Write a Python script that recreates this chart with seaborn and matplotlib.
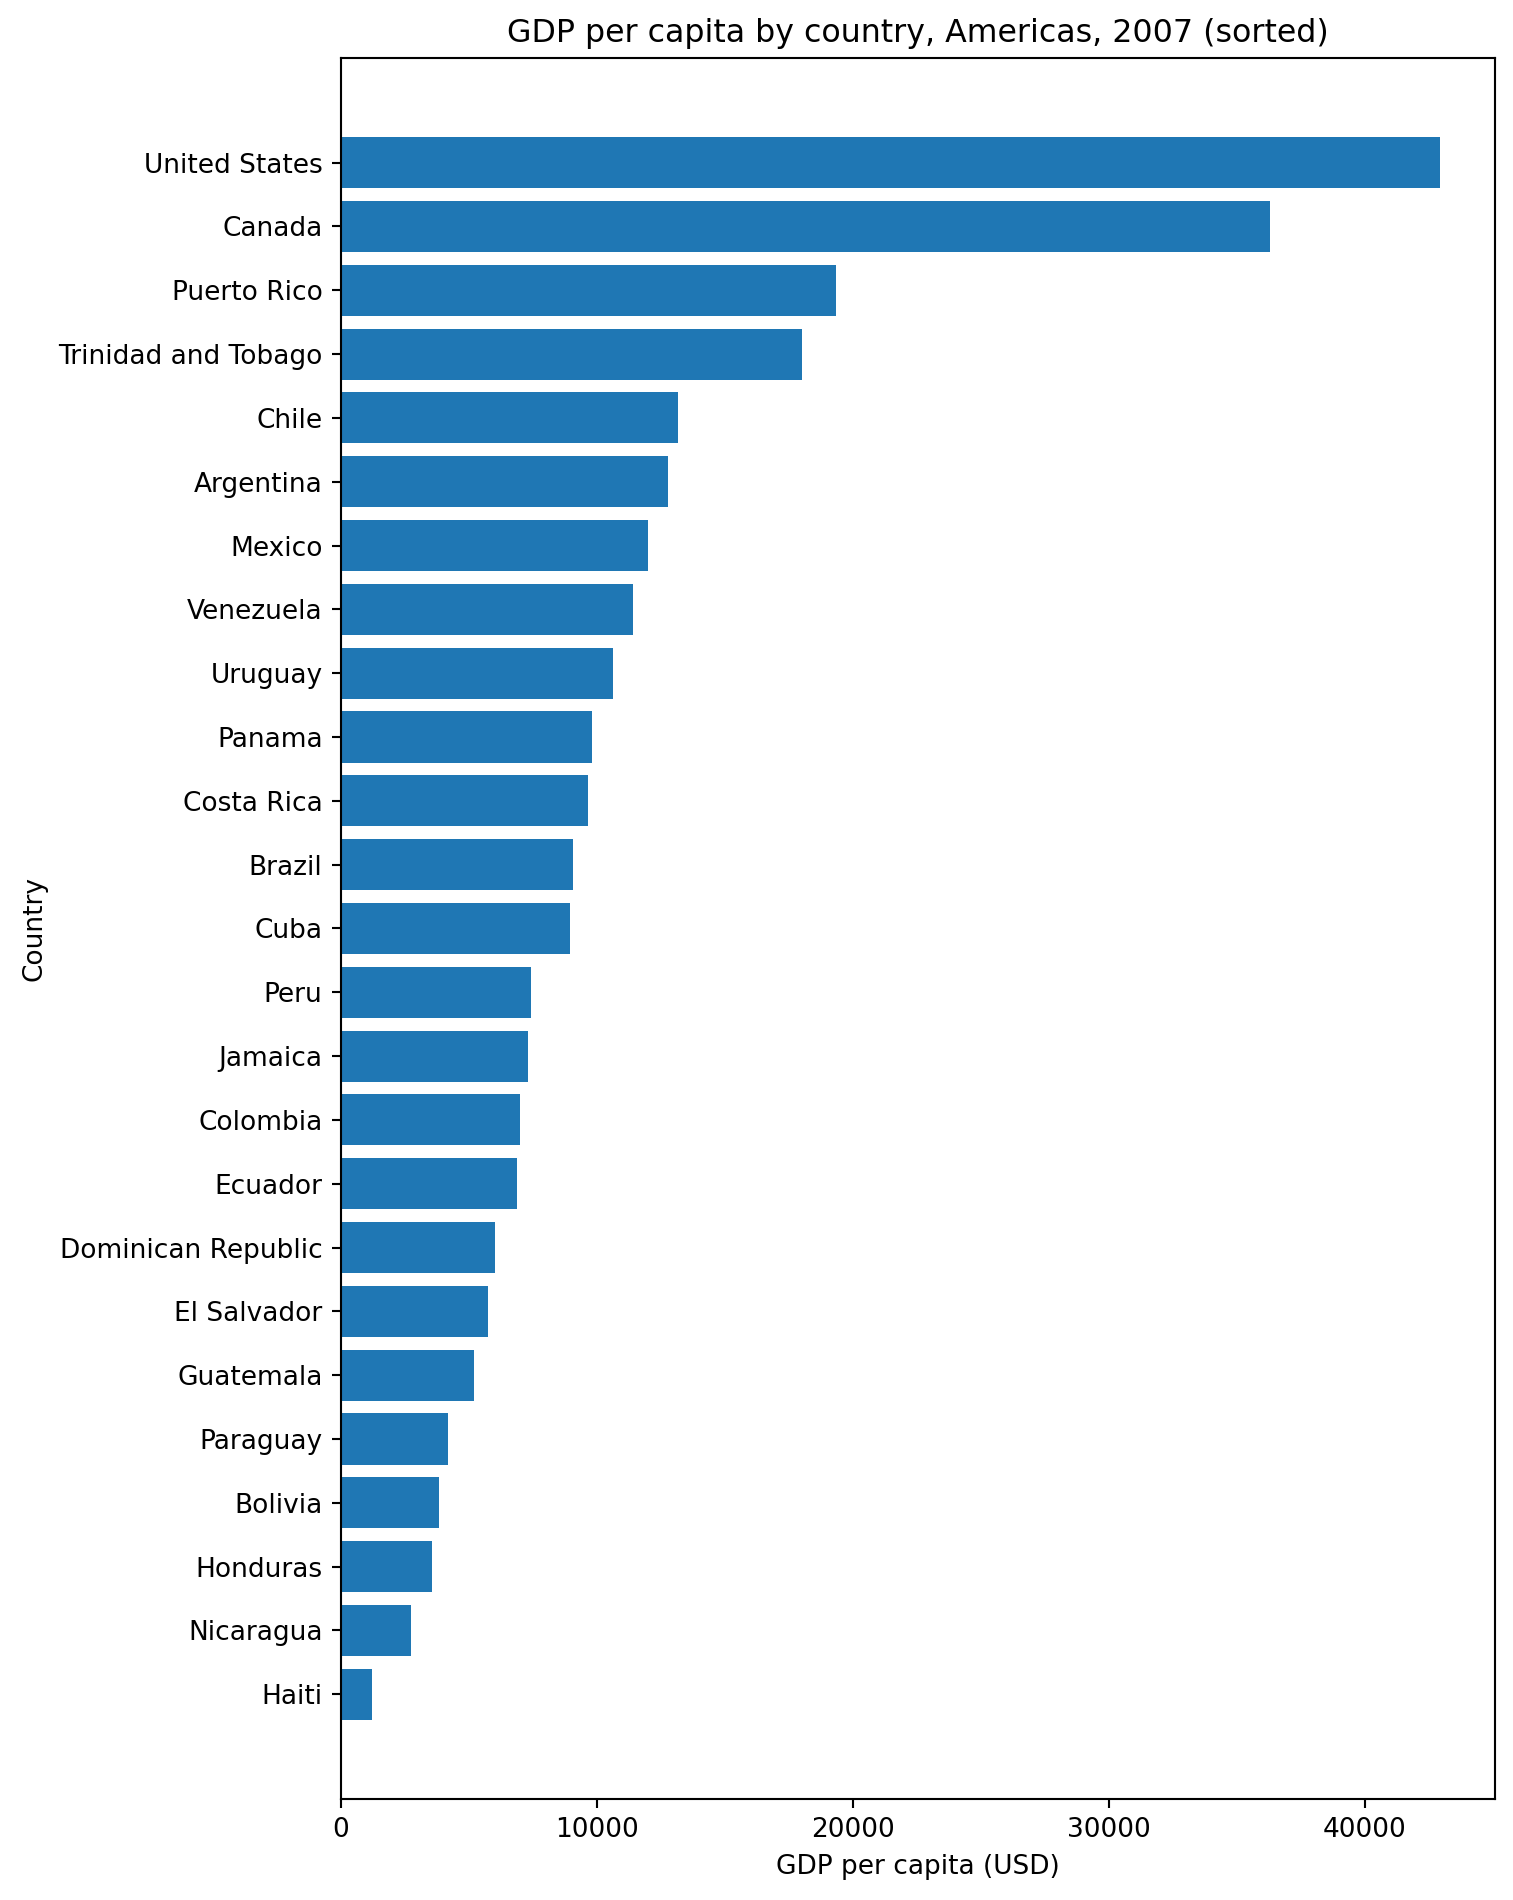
import seaborn as sns
import pandas as pd
import matplotlib.pyplot as plt

countries = ["United States", "Canada", "Puerto Rico", "Trinidad and Tobago", "Chile",
             "Argentina", "Mexico", "Venezuela", "Uruguay", "Panama", "Costa Rica",
             "Brazil", "Cuba", "Peru", "Jamaica", "Colombia", "Ecuador",
             "Dominican Republic", "El Salvador", "Guatemala", "Paraguay", "Bolivia",
             "Honduras", "Nicaragua", "Haiti"]
gdp = [42951.65, 36319.24, 19328.71, 18008.51, 13171.64,
       12779.38, 11977.57, 11415.81, 10611.46, 9809.19, 9645.06,
       9065.80, 8948.10, 7408.91, 7320.88, 7006.58, 6873.26,
       6025.37, 5728.35, 5186.05, 4172.84, 3822.14,
       3548.33, 2749.32, 1201.64]

df = pd.DataFrame({"Country": countries, "gdpPercap": gdp})

fig, ax = plt.subplots(figsize=(1513 / 190, 10), dpi=190)
sns.barplot(data=df, x="gdpPercap", y="Country", orient="h", color="#1f77b4",
            saturation=1, width=0.8, ax=ax)
n = len(countries)
pad = 0.05 * (n - 1 + 0.8)
ax.set_ylim(n - 1 + 0.4 + pad, -0.4 - pad)
ax.set_xlim(0, max(gdp) * 1.05)
ax.set_xlabel("GDP per capita (USD)")
ax.set_ylabel("Country")
ax.set_title("GDP per capita by country, Americas, 2007 (sorted)")
fig.subplots_adjust(left=0.2254, right=0.9881, top=0.9695, bottom=0.0532)
fig.savefig("out.png")
